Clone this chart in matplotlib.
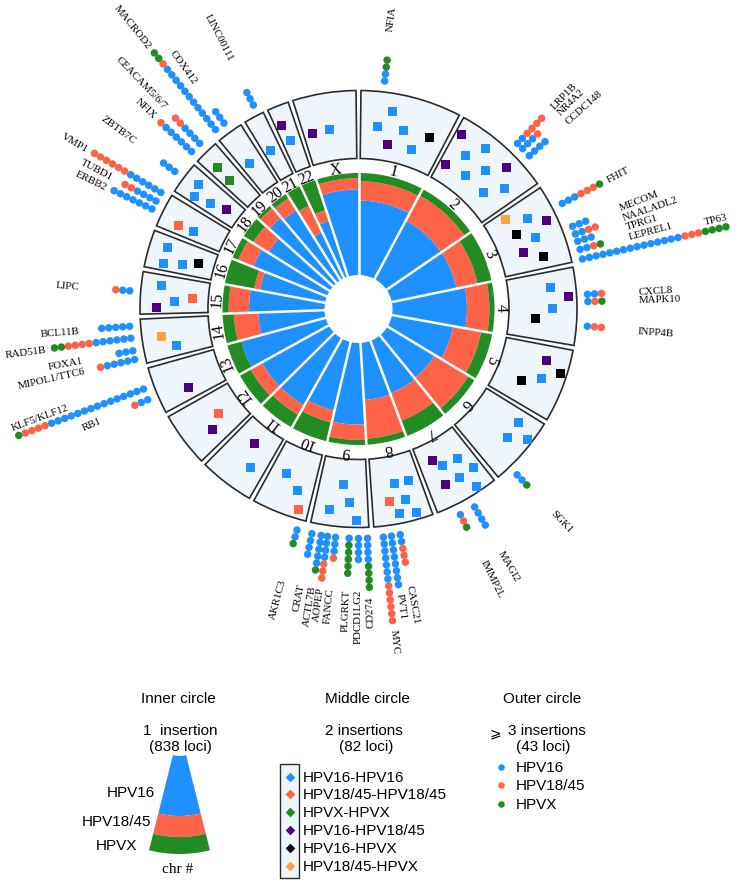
import numpy as np
import matplotlib
matplotlib.use("Agg")
import matplotlib.pyplot as plt
from matplotlib.patches import Wedge, Rectangle

# ------------------------------------------------------------------ data
chroms = ["1", "2", "3", "4", "5", "6", "7", "8", "9", "10", "11", "12",
          "13", "14", "15", "16", "17", "18", "19", "20", "21", "22", "X"]
chrom_len_mb = [249.3, 243.2, 198.0, 191.2, 180.9, 171.1, 159.1, 146.4, 141.2,
                135.5, 135.0, 133.9, 115.2, 107.3, 102.5, 90.4, 81.2, 78.1,
                59.1, 63.0, 48.1, 51.3, 155.3]

# inner circle: share (%) of single-insertion loci per chromosome by HPV type
pct_hpv16 = [73, 65, 65, 73, 61, 54, 55, 56, 80, 69, 75, 75, 86, 65, 74, 65,
             78, 71, 84, 81, 50, 58, 84]
pct_hpv1845 = [19, 28, 21, 22, 28, 39, 29, 38, 15, 12, 11, 13, 0, 24, 20, 6,
               16, 18, 13, 14, 29, 11, 11]
pct_hpvx = [8, 7, 14, 5, 11, 7, 16, 6, 5, 19, 14, 12, 14, 11, 6, 29,
            6, 11, 3, 5, 21, 31, 5]

# middle circle: loci with 2 insertions (chrom, position Mb, pair type, lane 0-1)
mid_chrom = (["1"] * 6 + ["2"] * 9 + ["3"] * 7 + ["4"] * 4 + ["5"] * 4 + ["6"] * 3 +
             ["7"] * 7 + ["8"] * 6 + ["9"] * 4 + ["10"] * 3 + ["11"] * 2 + ["12"] * 2 +
             ["13"] * 1 + ["14"] * 2 + ["15"] * 4 + ["16"] * 4 + ["17"] * 2 + ["18"] * 4 +
             ["19"] * 2 + ["20"] * 1 + ["21"] * 1 + ["22"] * 2 + ["X"] * 2)
mid_pos_mb = [85, 48, 125, 204, 87, 166,
              15, 88, 18, 55, 129, 163, 91, 168, 201,
              22, 50, 78, 79, 109, 137, 166,
              42, 70, 100, 130,
              41, 63, 119, 91,
              32, 82, 54,
              114, 93, 45, 21, 69, 113, 45,
              77, 33, 100, 56, 80, 36,
              71, 49, 100, 30,
              89, 43, 25,
              73, 40,
              67, 40,
              32,
              59, 28,
              75, 33, 46, 16,
              61, 16, 28, 42,
              22, 24,
              47, 15, 27, 40,
              22, 21,
              26,
              18,
              16, 24,
              26, 77]
mid_pair = ["16-16", "16-16", "16-16", "16-X", "16-18", "16-16",
            "16-18", "16-16", "16-18", "16-16", "16-16", "16-18", "16-16", "16-16", "16-16",
            "18-X", "16-16", "16-18", "16-X", "16-16", "16-18", "16-X",
            "16-16", "16-18", "16-16", "16-X",
            "16-18", "16-X", "16-X", "16-16",
            "16-16", "16-16", "16-16",
            "16-18", "16-16", "16-16", "16-16", "16-16", "16-18", "16-16",
            "16-16", "16-16", "18-18", "16-16", "16-16", "16-16",
            "16-16", "16-16", "16-16", "16-16",
            "16-16", "16-16", "18-18",
            "16-18", "16-16",
            "18-18", "16-18",
            "16-18",
            "18-X", "16-16",
            "16-16", "16-16", "18-18", "16-18",
            "16-16", "16-16", "16-16", "16-X",
            "18-18", "16-16",
            "16-16", "16-16", "16-16", "16-18",
            "X-X", "X-X",
            "16-16",
            "16-16",
            "16-18", "16-16",
            "16-18", "16-16"]
mid_lane = [0.74, 0.48, 0.49, 0.51, 0.24, 0.26,
            0.77, 0.79, 0.27, 0.54, 0.55, 0.80, 0.30, 0.30, 0.57,
            0.32, 0.60, 0.85, 0.35, 0.60, 0.35, 0.61,
            0.63, 0.88, 0.64, 0.39,
            0.65, 0.90, 0.40, 0.67,
            0.67, 0.68, 0.92,
            0.27, 0.40, 0.42, 0.67, 0.67, 0.67, 0.92,
            0.40, 0.42, 0.65, 0.67, 0.86, 0.90,
            0.38, 0.63, 0.77, 0.89,
            0.42, 0.61, 0.86,
            0.29, 0.61,
            0.35, 0.57,
            0.54,
            0.71, 0.52,
            0.70, 0.49, 0.24, 0.76,
            0.74, 0.73, 0.46, 0.23,
            0.70, 0.46,
            0.77, 0.71, 0.46, 0.21,
            0.73, 0.46,
            0.46,
            0.45,
            0.71, 0.46,
            0.46, 0.46]

# outer circle: loci with >= 3 insertions (one letter per insertion, inside -> out)
out_gene = ["NFIA", "LRP1B", "NR4A2", "CCDC148", "FHIT", "MECOM", "NAALADL2",
            "TPRG1", "LEPREL1", "TP63", "CXCL8", "MAPK10", "INPP4B", "SGK1",
            "MAGI2", "IMMP2L", "CASC21", "PVT1", "MYC", "CD274", "PDCD1LG2",
            "PLGRKT", "FANCC", "AOPEP", "ACTL7B", "CRAT", "AKR1C3", "RB1",
            "KLF5/KLF12", "MIPOL1/TTC6", "FOXA1", "RAD51B", "BCL11B", "LIPC",
            "ERBB2", "TUBD1", "VMP1", "ZBTB7C", "NFIX", "CEACAM5/6/7",
            "MACROD2", "COX412", "LINC00111"]
out_chrom = ["1", "2", "2", "2", "3", "3", "3", "3", "3", "3", "4", "4", "4", "6",
             "7", "7", "8", "8", "8", "9", "9", "9", "9", "9", "9", "9", "10", "13",
             "13", "14", "14", "14", "14", "15", "17", "17", "17", "18", "19", "19",
             "20", "20", "21"]
out_pos_mb = [54, 140, 157, 180, 58, 117, 136, 154, 174, 197, 68, 85, 143, 135,
              74, 112, 87, 108, 127, 3, 24, 46, 78, 97, 112, 134, 14, 45,
              72, 14, 35, 65, 93, 54, 31, 52, 75, 38, 6, 33,
              8, 33, 36]
out_calls = ["BBGG", "BBOOOO", "BBBO", "BBBB", "BBBOOOG", "BBB", "BBOO", "BBB",
             "BBOG", "BBBBBBBBBBBBBBBOOOGGGG", "BBO", "BOG", "BOO", "BBG",
             "BBBB", "BOG", "BBOOO", "BBBBBBBB", "BBBBBBBOOOOOO", "BBBBGGGG",
             "BBBB", "BGGGGG", "BBBO", "BBBBOOO", "BBBBBG", "BBBB", "BBG", "BBO",
             "BBBBBBBBBBBBBBBOOOOG", "BBBBBO", "BBB", "BBBBBBOOOOGG", "BBBBB",
             "BBO", "BBBBBBB", "BBBBOO", "BBBBBBOOOOOO", "BBB", "BBBBBBO",
             "BBBBOO", "BBBBBBBBBBBBOGG", "BBB", "BBB"]

# ------------------------------------------------------------------ style
BLUE, ORANGE, GREEN = "#1e90ff", "#ff6347", "#228b22"
PURPLE, BLACK, YELLOW = "#4b0082", "#000000", "#f9a43c"
BOX_FILL, BOX_EDGE = "#eef6fc", "#2b2b2b"
CALL_COLORS = {"B": BLUE, "O": ORANGE, "G": GREEN}
PAIR_COLORS = {"16-16": BLUE, "18-18": ORANGE, "X-X": GREEN,
               "16-18": PURPLE, "16-X": BLACK, "18-X": YELLOW}
SERIF = "Liberation Serif"
SANS = ["Liberation Sans", "DejaVu Sans"]

W, H = 743, 887
CX, CY = 358.5, 310.0       # circle centre in pixels (from top-left)
RMAX = 400.0
R_HOLE, R_BAR = 34.0, 136.0
R_LABEL = 142.0
R_BOX0, R_BOX1 = 150.5, 218.5
DOT_R0, DOT_STEP = 229.5, 7.0
PAD = 1.6                   # degrees of padding per chromosome

fig = plt.figure(figsize=(W / 100, H / 100), dpi=100)
fig.patch.set_facecolor("white")

# overlay axes in pixel coordinates for the legend
lax = fig.add_axes([0, 0, 1, 1])
lax.set_xlim(0, W)
lax.set_ylim(H, 0)
lax.set_axis_off()

ax = fig.add_axes([(CX - RMAX) / W, (H - CY - RMAX) / H, 2 * RMAX / W, 2 * RMAX / H],
                  projection="polar")
ax.set_theta_zero_location("N")
ax.set_theta_direction(-1)
ax.set_ylim(0, RMAX)
ax.set_axis_off()

# chromosome layout
lens = np.array(chrom_len_mb)
k = (360.0 - PAD * len(chroms)) / lens.sum()
spans = lens * k + PAD
starts = np.concatenate([[0.0], np.cumsum(spans)[:-1]])
mids = starts + spans / 2
cidx = {c: i for i, c in enumerate(chroms)}


def ang(c, mb):
    i = cidx[c]
    return starts[i] + PAD / 2 + mb * k


rad = np.deg2rad

# ---- inner circle (stacked bars)
L = R_BAR - R_HOLE
b = np.array(pct_hpv16) / 100 * L
o = np.array(pct_hpv1845) / 100 * L
g = np.array(pct_hpvx) / 100 * L
ax.bar(rad(mids), b, width=rad(spans), bottom=R_HOLE, color=BLUE, lw=0)
ax.bar(rad(mids), o, width=rad(spans), bottom=R_HOLE + b, color=ORANGE, lw=0)
ax.bar(rad(mids), g, width=rad(spans), bottom=R_HOLE + b + o, color=GREEN, lw=0)
for s in starts:
    ax.plot([rad(s), rad(s)], [R_HOLE - 2, R_BAR + 2], color="white", lw=1.8,
            solid_capstyle="butt", zorder=2)

# chromosome labels
for name, m in zip(chroms, mids):
    ax.text(rad(m), R_LABEL, name, rotation=-m, rotation_mode="anchor",
            ha="center", va="center", fontsize=11.5, family=SERIF)

# ---- middle circle boxes
ax.bar(rad(mids), R_BOX1 - R_BOX0, width=rad(spans - 1.3), bottom=R_BOX0,
       color=BOX_FILL, edgecolor=BOX_EDGE, lw=1.2, zorder=1)
mth = [rad(ang(c, p)) for c, p in zip(mid_chrom, mid_pos_mb)]
mr = R_BOX0 + np.array(mid_lane) * (R_BOX1 - R_BOX0)
ax.scatter(mth, mr, marker="s", s=42, c=[PAIR_COLORS[t] for t in mid_pair],
           lw=0, zorder=3)

# ---- outer circle dots and gene labels
for gene, c, p, calls in zip(out_gene, out_chrom, out_pos_mb, out_calls):
    th = ang(c, p)
    n = len(calls)
    rr = DOT_R0 + DOT_STEP * np.arange(n)
    ax.scatter(np.full(n, rad(th)), rr, s=29, c=[CALL_COLORS[x] for x in calls],
               lw=0, zorder=4)
    right = th < 176
    rot = 90 - th if right else 270 - th
    r_end = rr[-1]
    if r_end > 340:
        r_lab = r_end + 4
        dth = np.degrees(5.0 / r_lab)
        th_lab = th - dth if right else th + dth
        ax.text(rad(th_lab), r_lab, gene, rotation=rot, rotation_mode="anchor",
                ha="right" if right else "left", va="bottom",
                fontsize=7.8, family=SERIF)
    else:
        r_lab = max(280.0, r_end + 8)
        ax.text(rad(th), r_lab, gene, rotation=rot, rotation_mode="anchor",
                ha="left" if right else "right", va="center",
                fontsize=7.8, family=SERIF)

# ------------------------------------------------------------------ legend
FS = 11
# inner
lax.text(178, 699, "Inner circle", ha="center", va="center", fontsize=FS, family=SANS)
lax.text(180, 731.5, "1  insertion", ha="center", va="center", fontsize=FS, family=SANS)
lax.text(180, 747.5, "(838 loci)", ha="center", va="center", fontsize=FS, family=SANS)
apex = (179.5, 730.0)
for r_out, wdt, col in [(87, 60, BLUE), (108, 21, ORANGE), (125, 17, GREEN)]:
    lax.add_patch(Wedge(apex, r_out, 90 - 14.1, 90 + 14.1, width=wdt,
                        facecolor=col, edgecolor="none"))
lax.text(155, 793, "HPV16", ha="right", va="center", fontsize=FS, family=SANS)
lax.text(151, 822, "HPV18/45", ha="right", va="center", fontsize=FS, family=SANS)
lax.text(137, 846, "HPVX", ha="right", va="center", fontsize=FS, family=SANS)
lax.text(178, 870, "chr #", ha="center", va="center", fontsize=11, family=SERIF)

# middle
lax.text(367, 699, "Middle circle", ha="center", va="center", fontsize=FS, family=SANS)
lax.text(364, 731.5, "2 insertions", ha="center", va="center", fontsize=FS, family=SANS)
lax.text(366, 747.5, "(82 loci)", ha="center", va="center", fontsize=FS, family=SANS)
lax.add_patch(Rectangle((280, 765), 19.3, 114, facecolor=BOX_FILL,
                        edgecolor=BOX_EDGE, lw=1.0))
mid_legend = [("16-16", "HPV16-HPV16"), ("18-18", "HPV18/45-HPV18/45"),
              ("X-X", "HPVX-HPVX"), ("16-18", "HPV16-HPV18/45"),
              ("16-X", "HPV16-HPVX"), ("18-X", "HPV18/45-HPVX")]
for i, (key, lab) in enumerate(mid_legend):
    y = 777.7 + i * 17.8
    lax.scatter([290], [y], marker="D", s=24, c=PAIR_COLORS[key], lw=0)
    lax.text(302.7, y, lab, ha="left", va="center", fontsize=FS, family=SANS)

# outer
lax.text(542, 699, "Outer circle", ha="center", va="center", fontsize=FS, family=SANS)
lax.text(495, 733, "\u2a7e", ha="center", va="center", fontsize=10, family=SANS)
lax.text(508, 731.5, "3 insertions", ha="left", va="center", fontsize=FS, family=SANS)
lax.text(543, 747.5, "(43 loci)", ha="center", va="center", fontsize=FS, family=SANS)
for i, (col, lab) in enumerate([(BLUE, "HPV16"), (ORANGE, "HPV18/45"), (GREEN, "HPVX")]):
    y = 768 + i * 18.5
    lax.scatter([501], [y], s=22, c=col, lw=0)
    lax.text(515.7, y, lab, ha="left", va="center", fontsize=FS, family=SANS)

fig.savefig("out.png", dpi=100, facecolor="white")
